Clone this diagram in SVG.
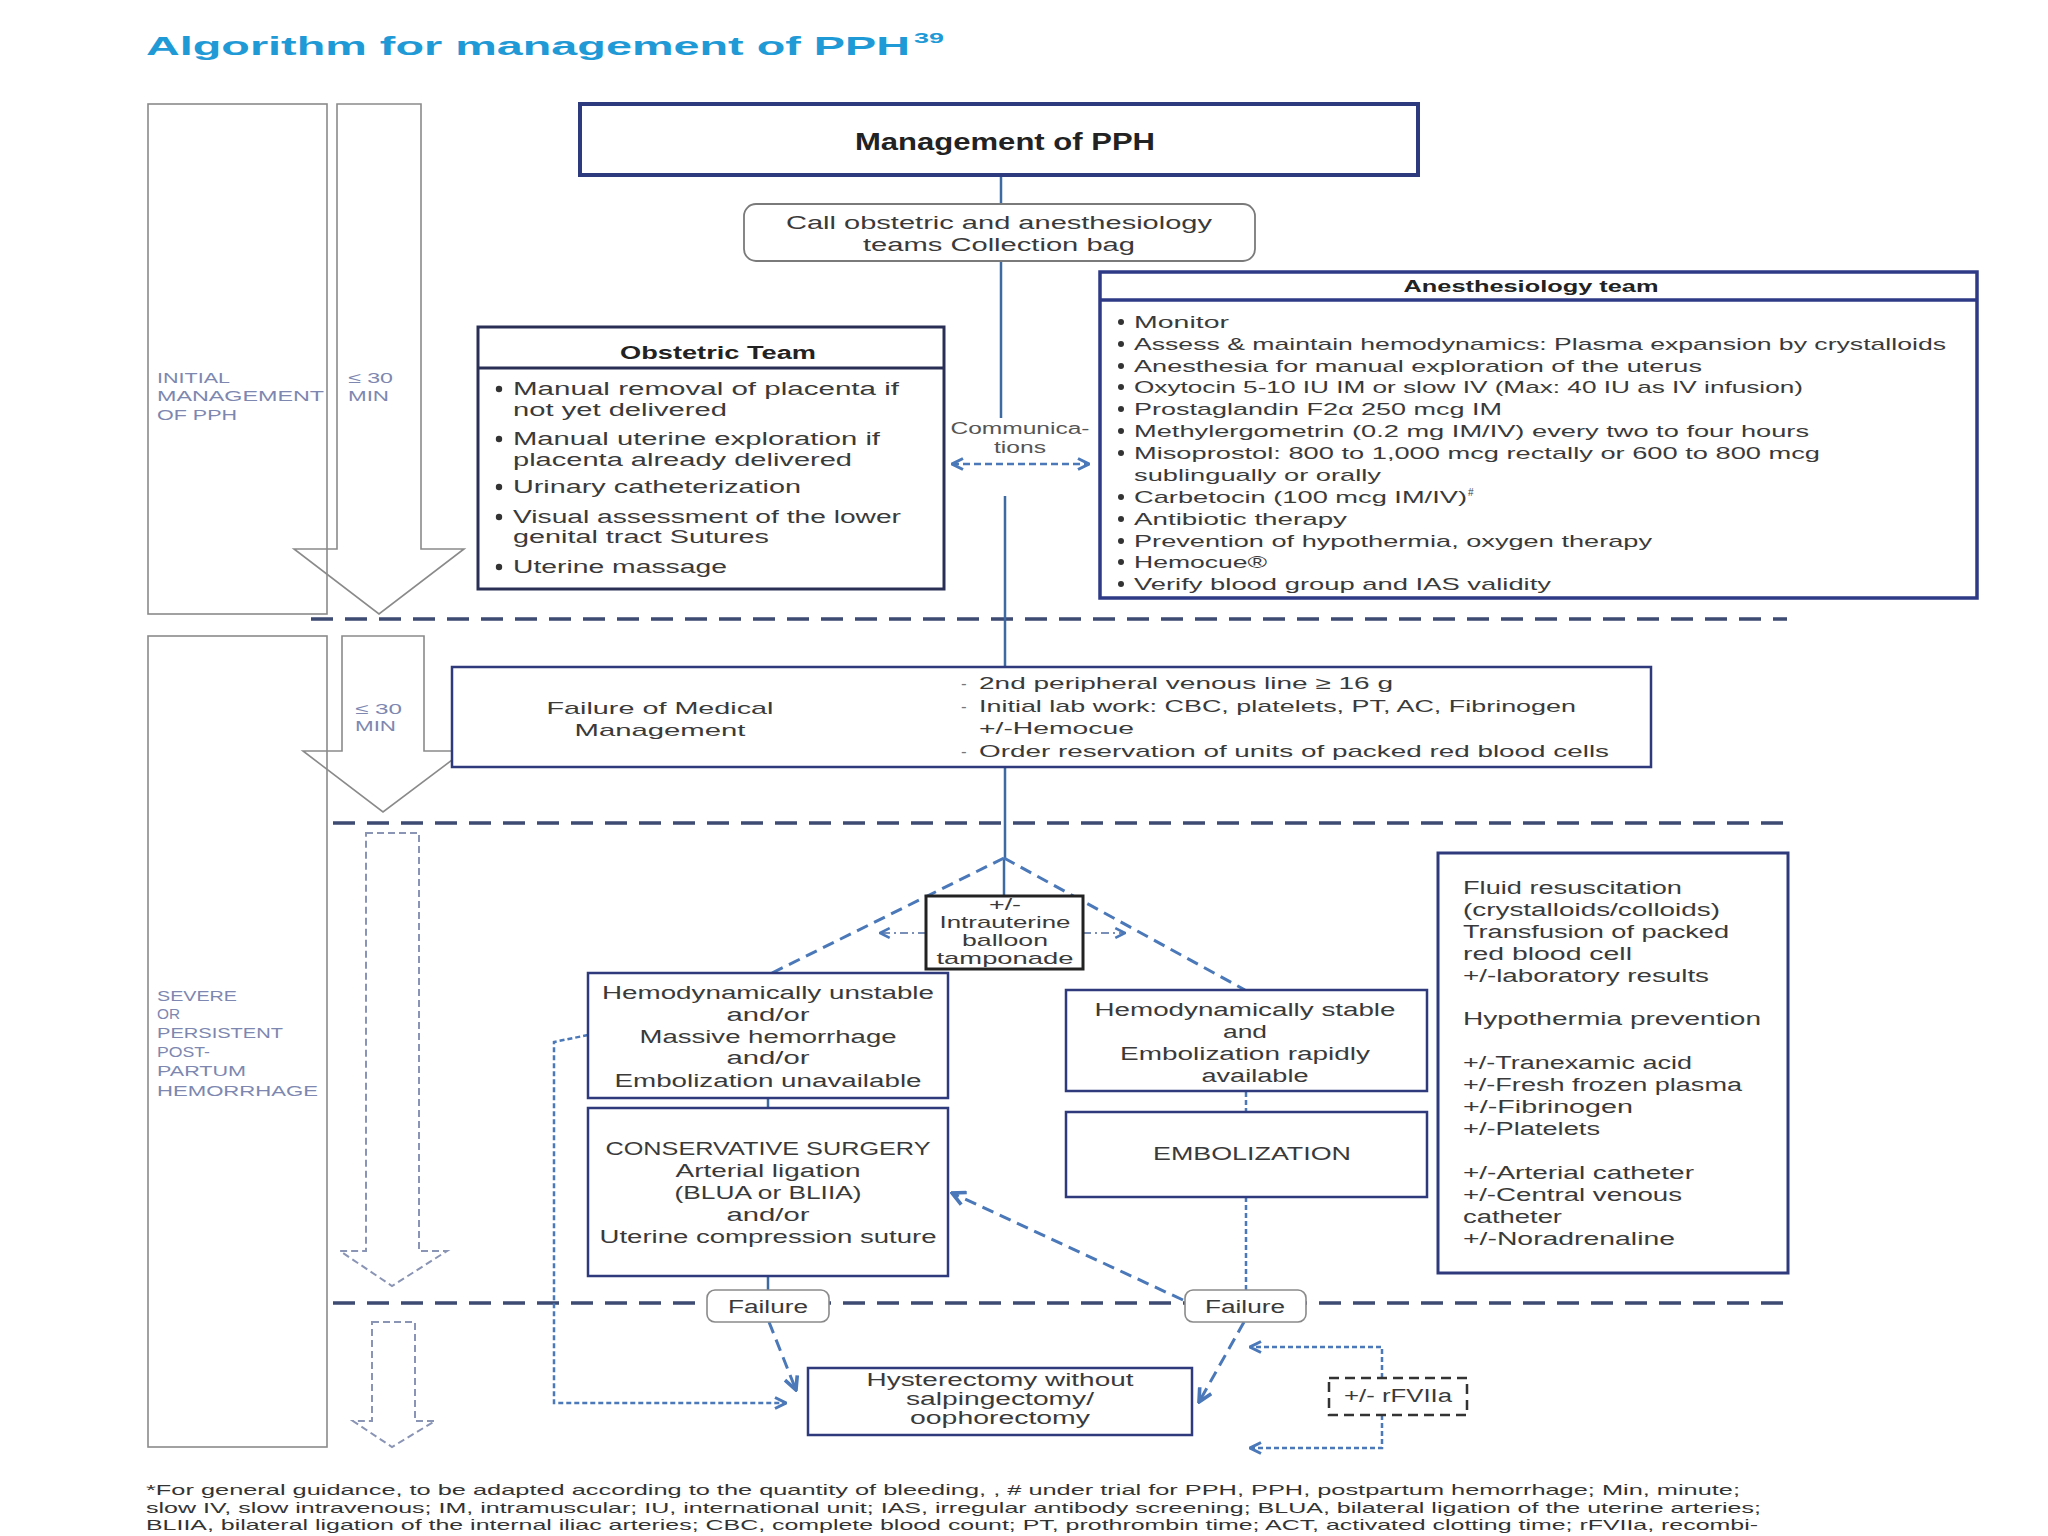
<svg xmlns="http://www.w3.org/2000/svg" width="2048" height="1536" viewBox="0 0 2048 1536">
<style>
text{font-family:"Liberation Sans",Arial,sans-serif;fill:#3a3a3a;font-size:17px}
.c{text-anchor:middle}
.b{font-weight:bold}
.side{fill:#7d87b0;font-size:15px}
.box{fill:#fff;stroke:#2e3a7c;stroke-width:2.5}
.gray{fill:none;stroke:#8a8a8a;stroke-width:1.6}
.gdash{fill:none;stroke:#8a94b4;stroke-width:2;stroke-dasharray:7 4}
.div{stroke:#3d4a72;stroke-width:3.5;stroke-dasharray:22 12;fill:none}
.sol{stroke:#3d6aa3;stroke-width:2.5;fill:none}
.dsh{stroke:#4a78b8;stroke-width:3;stroke-dasharray:12 7;fill:none}
.dot{stroke:#4a78b8;stroke-width:2.5;stroke-dasharray:5 3;fill:none}
.pill{fill:#fff;stroke:#8a8a8a;stroke-width:1.6}
.bul{fill:#333}
</style>
<defs>
<marker id="ah" viewBox="0 0 10 10" refX="9" refY="5" markerWidth="5.5" markerHeight="5.5" orient="auto-start-reverse">
<path d="M1,1 L9,5 L1,9" fill="none" stroke="#4a78b8" stroke-width="2.2"/>
</marker>
</defs>
<rect x="0" y="0" width="2048" height="1536" fill="#fff"/>

<text x="146" y="55" class="b" style="fill:#1f9ad6;font-size:26px" textLength="764" lengthAdjust="spacingAndGlyphs">Algorithm for management of PPH</text>
<text x="914" y="43" class="b" style="fill:#1f9ad6;font-size:14px" textLength="30" lengthAdjust="spacingAndGlyphs">39</text>

<g id="phase-initial">
<rect x="148" y="104" width="179" height="510" class="gray"/>
<text x="157" y="383" class="side" textLength="73" lengthAdjust="spacingAndGlyphs">INITIAL</text>
<text x="157" y="401" class="side" textLength="167" lengthAdjust="spacingAndGlyphs">MANAGEMENT</text>
<text x="157" y="420" class="side" textLength="80" lengthAdjust="spacingAndGlyphs">OF PPH</text>
</g>
<g id="timer-1">
<polygon points="337,104 421,104 421,549 464,549 379,614 294,549 337,549" class="gray"/>
<text x="348" y="383" class="side" textLength="45" lengthAdjust="spacingAndGlyphs">≤ 30</text>
<text x="348" y="401" class="side" textLength="41" lengthAdjust="spacingAndGlyphs">MIN</text>
</g>
<g id="phase-severe">
<rect x="148" y="636" width="179" height="811" class="gray"/>
<text x="157" y="1001" class="side" textLength="80" lengthAdjust="spacingAndGlyphs">SEVERE</text>
<text x="157" y="1019" class="side" textLength="23" lengthAdjust="spacingAndGlyphs">OR</text>
<text x="157" y="1038" class="side" textLength="126" lengthAdjust="spacingAndGlyphs">PERSISTENT</text>
<text x="157" y="1057" class="side" textLength="53" lengthAdjust="spacingAndGlyphs">POST-</text>
<text x="157" y="1076" class="side" textLength="89" lengthAdjust="spacingAndGlyphs">PARTUM</text>
<text x="157" y="1096" class="side" textLength="161" lengthAdjust="spacingAndGlyphs">HEMORRHAGE</text>
</g>
<g id="timer-2">
<polygon points="342,636 424,636 424,751 464,751 383,812 303,751 342,751" class="gray"/>
<text x="355" y="714" class="side" textLength="47" lengthAdjust="spacingAndGlyphs">≤ 30</text>
<text x="355" y="731" class="side" textLength="41" lengthAdjust="spacingAndGlyphs">MIN</text>
</g>
<g id="timer-3">
<polygon points="366,833 419,833 419,1251 447,1251 392,1286 340,1251 366,1251" class="gdash"/>
</g>
<g id="timer-4">
<polygon points="372,1322 415,1322 415,1421 435,1421 392,1447 353,1421 372,1421" class="gdash"/>
</g>

<g id="dividers">
<line x1="311" y1="619" x2="1787" y2="619" class="div"/>
<line x1="333" y1="823" x2="1787" y2="823" class="div"/>
<line x1="333" y1="1303" x2="1787" y2="1303" class="div"/>
</g>

<g id="connectors">
<path d="M1001,175 V204" class="sol"/>
<path d="M1001,261 V418" class="sol"/>
<path d="M1005,496 V858" class="sol"/>
<path d="M1004,858 V896" class="sol"/>
<path d="M1004,858 L772,973" class="dsh"/>
<path d="M1004,858 L1245,990" class="dsh"/>
<path d="M926,933 H880" stroke="#7a8fb8" stroke-width="2.2" stroke-dasharray="8 4 2 4" fill="none" marker-end="url(#ah)"/>
<path d="M1083,933 H1125" stroke="#7a8fb8" stroke-width="2.2" stroke-dasharray="8 4 2 4" fill="none" marker-end="url(#ah)"/>
<path d="M768,1098 V1108" class="sol"/>
<path d="M768,1276 V1290" class="sol"/>
<path d="M1246,1092 V1112" class="dot"/>
<path d="M1246,1197 V1290" class="dot"/>
<path d="M769,1322 L796,1390" class="dsh" marker-end="url(#ah)"/>
<path d="M1244,1322 L1199,1402" class="dsh" marker-end="url(#ah)"/>
<path d="M1183,1300 L952,1193" class="dsh" marker-end="url(#ah)"/>
<path d="M588,1035 L554,1042 V1403 H786" class="dot" marker-end="url(#ah)"/>
<path d="M1382,1378 V1347 H1250" class="dot" marker-end="url(#ah)"/>
<path d="M1382,1415 V1448 H1250" class="dot" marker-end="url(#ah)"/>
<path d="M952,464 H1089" stroke="#4a78b8" stroke-width="2.5" stroke-dasharray="7 4" fill="none" marker-start="url(#ah)" marker-end="url(#ah)"/>
<text x="1020" y="434" class="c" style="font-size:16px;fill:#555" textLength="139" lengthAdjust="spacingAndGlyphs">Communica-</text>
<text x="1020" y="453" class="c" style="font-size:16px;fill:#555" textLength="52" lengthAdjust="spacingAndGlyphs">tions</text>
</g>

<g id="management">
<rect x="580" y="104" width="838" height="71" fill="#fff" stroke="#2e3a7e" stroke-width="4"/>
<text x="1005" y="150" class="c b" style="font-size:24px;fill:#222" textLength="300" lengthAdjust="spacingAndGlyphs">Management of PPH</text>
</g>

<g id="call-teams">
<rect x="744" y="204" width="511" height="57" rx="12" fill="#fff" stroke="#7a7a7a" stroke-width="1.8"/>
<text x="999" y="229" class="c" style="font-size:18px" textLength="426" lengthAdjust="spacingAndGlyphs">Call obstetric and anesthesiology</text>
<text x="999" y="251" class="c" style="font-size:18px" textLength="272" lengthAdjust="spacingAndGlyphs">teams Collection bag</text>
</g>

<g id="obstetric-team">
<rect x="478" y="327" width="466" height="262" fill="#fff" stroke="#2a2f55" stroke-width="3"/>
<line x1="478" y1="368" x2="944" y2="368" stroke="#2a2f55" stroke-width="3"/>
<text x="718" y="359" class="c b" style="font-size:18px;fill:#222" textLength="196" lengthAdjust="spacingAndGlyphs">Obstetric Team</text>
<circle cx="499" cy="389" r="3.2" class="bul"/>
<circle cx="499" cy="439" r="3.2" class="bul"/>
<circle cx="499" cy="487" r="3.2" class="bul"/>
<circle cx="499" cy="517" r="3.2" class="bul"/>
<circle cx="499" cy="567" r="3.2" class="bul"/>
<text x="513" y="395" style="font-size:18px" textLength="386" lengthAdjust="spacingAndGlyphs">Manual removal of placenta  if</text>
<text x="513" y="416" style="font-size:18px" textLength="214" lengthAdjust="spacingAndGlyphs">not yet delivered</text>
<text x="513" y="445" style="font-size:18px" textLength="367" lengthAdjust="spacingAndGlyphs">Manual uterine exploration if</text>
<text x="513" y="466" style="font-size:18px" textLength="339" lengthAdjust="spacingAndGlyphs">placenta already delivered</text>
<text x="513" y="493" style="font-size:18px" textLength="288" lengthAdjust="spacingAndGlyphs">Urinary catheterization</text>
<text x="513" y="523" style="font-size:18px" textLength="388" lengthAdjust="spacingAndGlyphs">Visual assessment of the lower</text>
<text x="513" y="543" style="font-size:18px" textLength="256" lengthAdjust="spacingAndGlyphs">genital tract Sutures</text>
<text x="513" y="573" style="font-size:18px" textLength="214" lengthAdjust="spacingAndGlyphs">Uterine massage</text>
</g>

<g id="anesthesiology-team">
<rect x="1100" y="272" width="877" height="326" fill="#fff" stroke="#2e3a86" stroke-width="3.5"/>
<line x1="1100" y1="300" x2="1977" y2="300" stroke="#2e3a86" stroke-width="3.5"/>
<text x="1531" y="292" class="c b" style="font-size:17px;fill:#222" textLength="255" lengthAdjust="spacingAndGlyphs">Anesthesiology team</text>
<circle cx="1121" cy="322" r="3" class="bul"/>
<circle cx="1121" cy="344" r="3" class="bul"/>
<circle cx="1121" cy="366" r="3" class="bul"/>
<circle cx="1121" cy="387" r="3" class="bul"/>
<circle cx="1121" cy="409" r="3" class="bul"/>
<circle cx="1121" cy="431" r="3" class="bul"/>
<circle cx="1121" cy="453" r="3" class="bul"/>
<circle cx="1121" cy="497" r="3" class="bul"/>
<circle cx="1121" cy="519" r="3" class="bul"/>
<circle cx="1121" cy="541" r="3" class="bul"/>
<circle cx="1121" cy="562" r="3" class="bul"/>
<circle cx="1121" cy="584" r="3" class="bul"/>
<text x="1134" y="328" textLength="95" lengthAdjust="spacingAndGlyphs">Monitor</text>
<text x="1134" y="350" textLength="812" lengthAdjust="spacingAndGlyphs">Assess &amp; maintain hemodynamics: Plasma expansion by crystalloids</text>
<text x="1134" y="372" textLength="568" lengthAdjust="spacingAndGlyphs">Anesthesia for manual exploration of the uterus</text>
<text x="1134" y="393" textLength="669" lengthAdjust="spacingAndGlyphs">Oxytocin 5-10 IU IM or slow IV (Max: 40 IU as IV infusion)</text>
<text x="1134" y="415" textLength="368" lengthAdjust="spacingAndGlyphs">Prostaglandin F2α 250 mcg IM</text>
<text x="1134" y="437" textLength="675" lengthAdjust="spacingAndGlyphs">Methylergometrin (0.2 mg IM/IV) every two to four hours</text>
<text x="1134" y="459" textLength="686" lengthAdjust="spacingAndGlyphs">Misoprostol: 800 to 1,000 mcg rectally or 600 to 800 mcg</text>
<text x="1134" y="481" textLength="247" lengthAdjust="spacingAndGlyphs">sublingually or orally</text>
<text x="1134" y="503" textLength="333" lengthAdjust="spacingAndGlyphs">Carbetocin (100 mcg IM/IV)</text>
<text x="1468" y="496" style="font-size:10px">#</text>
<text x="1134" y="525" textLength="213" lengthAdjust="spacingAndGlyphs">Antibiotic therapy</text>
<text x="1134" y="547" textLength="518" lengthAdjust="spacingAndGlyphs">Prevention of hypothermia, oxygen therapy</text>
<text x="1134" y="568" textLength="133" lengthAdjust="spacingAndGlyphs">Hemocue®</text>
<text x="1134" y="590" textLength="417" lengthAdjust="spacingAndGlyphs">Verify blood group and IAS validity</text>
</g>

<g id="failure-medical">
<rect x="452" y="667" width="1199" height="100" class="box"/>
<text x="660" y="714" class="c" textLength="227" lengthAdjust="spacingAndGlyphs">Failure of Medical</text>
<text x="660" y="736" class="c" textLength="171" lengthAdjust="spacingAndGlyphs">Management</text>
<text x="961" y="689" style="fill:#777">-</text>
<text x="961" y="712" style="fill:#777">-</text>
<text x="961" y="757" style="fill:#777">-</text>
<text x="979" y="689" textLength="414" lengthAdjust="spacingAndGlyphs">2nd peripheral venous line ≥ 16 g</text>
<text x="979" y="712" textLength="597" lengthAdjust="spacingAndGlyphs">Initial lab work: CBC, platelets, PT, AC, Fibrinogen</text>
<text x="979" y="734" textLength="155" lengthAdjust="spacingAndGlyphs">+/-Hemocue</text>
<text x="979" y="757" textLength="630" lengthAdjust="spacingAndGlyphs">Order reservation of units of packed red blood cells</text>
</g>

<g id="balloon">
<rect x="926" y="896" width="157" height="73" fill="#fff" stroke="#222" stroke-width="3"/>
<text x="1005" y="910" class="c" style="font-size:16px" textLength="32" lengthAdjust="spacingAndGlyphs">+/-</text>
<text x="1005" y="928" class="c" style="font-size:17px" textLength="131" lengthAdjust="spacingAndGlyphs">Intrauterine</text>
<text x="1005" y="946" class="c" style="font-size:17px" textLength="86" lengthAdjust="spacingAndGlyphs">balloon</text>
<text x="1005" y="964" class="c" style="font-size:17px" textLength="137" lengthAdjust="spacingAndGlyphs">tamponade</text>
</g>

<g id="unstable">
<rect x="588" y="973" width="360" height="125" class="box"/>
<text x="768" y="999" class="c" style="font-size:18px" textLength="332" lengthAdjust="spacingAndGlyphs">Hemodynamically unstable</text>
<text x="768" y="1021" class="c" style="font-size:18px" textLength="83" lengthAdjust="spacingAndGlyphs">and/or</text>
<text x="768" y="1043" class="c" style="font-size:18px" textLength="257" lengthAdjust="spacingAndGlyphs">Massive hemorrhage</text>
<text x="768" y="1064" class="c" style="font-size:18px" textLength="83" lengthAdjust="spacingAndGlyphs">and/or</text>
<text x="768" y="1087" class="c" style="font-size:18px" textLength="307" lengthAdjust="spacingAndGlyphs">Embolization unavailable</text>
</g>

<g id="conservative-surgery">
<rect x="588" y="1108" width="360" height="168" class="box"/>
<text x="768" y="1155" class="c" style="font-size:18px" textLength="325" lengthAdjust="spacingAndGlyphs">CONSERVATIVE SURGERY</text>
<text x="768" y="1177" class="c" style="font-size:18px" textLength="185" lengthAdjust="spacingAndGlyphs">Arterial ligation</text>
<text x="768" y="1199" class="c" style="font-size:18px" textLength="187" lengthAdjust="spacingAndGlyphs">(BLUA or BLIIA)</text>
<text x="768" y="1221" class="c" style="font-size:18px" textLength="83" lengthAdjust="spacingAndGlyphs">and/or</text>
<text x="768" y="1243" class="c" style="font-size:18px" textLength="337" lengthAdjust="spacingAndGlyphs">Uterine compression suture</text>
</g>

<g id="stable">
<rect x="1066" y="990" width="361" height="101" class="box"/>
<text x="1245" y="1016" class="c" style="font-size:18px" textLength="301" lengthAdjust="spacingAndGlyphs">Hemodynamically stable</text>
<text x="1245" y="1038" class="c" style="font-size:18px" textLength="44" lengthAdjust="spacingAndGlyphs">and</text>
<text x="1245" y="1060" class="c" style="font-size:18px" textLength="250" lengthAdjust="spacingAndGlyphs">Embolization rapidly</text>
<text x="1255" y="1082" class="c" style="font-size:18px" textLength="107" lengthAdjust="spacingAndGlyphs">available</text>
</g>

<g id="embolization">
<rect x="1066" y="1112" width="361" height="85" class="box"/>
<text x="1252" y="1160" class="c" style="font-size:18px" textLength="198" lengthAdjust="spacingAndGlyphs">EMBOLIZATION</text>
</g>

<g id="failure-left">
<rect x="707" y="1290" width="122" height="32" rx="8" class="pill"/>
<text x="768" y="1313" class="c" style="font-size:18px" textLength="80" lengthAdjust="spacingAndGlyphs">Failure</text>
</g>
<g id="failure-right">
<rect x="1185" y="1290" width="121" height="32" rx="8" class="pill"/>
<text x="1245" y="1313" class="c" style="font-size:18px" textLength="80" lengthAdjust="spacingAndGlyphs">Failure</text>
</g>

<g id="hysterectomy">
<rect x="808" y="1368" width="384" height="67" class="box"/>
<text x="1000" y="1386" class="c" style="font-size:18px" textLength="267" lengthAdjust="spacingAndGlyphs">Hysterectomy without</text>
<text x="1000" y="1405" class="c" style="font-size:18px" textLength="188" lengthAdjust="spacingAndGlyphs">salpingectomy/</text>
<text x="1000" y="1424" class="c" style="font-size:18px" textLength="180" lengthAdjust="spacingAndGlyphs">oophorectomy</text>
</g>

<g id="rfviia">
<rect x="1329" y="1378" width="138" height="37" fill="#fff" stroke="#333" stroke-width="2.5" stroke-dasharray="10 6"/>
<text x="1398" y="1402" class="c" style="font-size:18px" textLength="108" lengthAdjust="spacingAndGlyphs">+/- rFVIIa</text>
</g>

<g id="supportive-care">
<rect x="1438" y="853" width="350" height="420" class="box" style="stroke-width:3"/>
<text x="1463" y="894" style="font-size:18px" textLength="219" lengthAdjust="spacingAndGlyphs">Fluid resuscitation</text>
<text x="1463" y="916" style="font-size:18px" textLength="257" lengthAdjust="spacingAndGlyphs">(crystalloids/colloids)</text>
<text x="1463" y="938" style="font-size:18px" textLength="266" lengthAdjust="spacingAndGlyphs">Transfusion of packed</text>
<text x="1463" y="960" style="font-size:18px" textLength="169" lengthAdjust="spacingAndGlyphs">red blood cell</text>
<text x="1463" y="982" style="font-size:18px" textLength="246" lengthAdjust="spacingAndGlyphs">+/-laboratory results</text>
<text x="1463" y="1025" style="font-size:18px" textLength="298" lengthAdjust="spacingAndGlyphs">Hypothermia prevention</text>
<text x="1463" y="1069" style="font-size:18px" textLength="229" lengthAdjust="spacingAndGlyphs">+/-Tranexamic acid</text>
<text x="1463" y="1091" style="font-size:18px" textLength="279" lengthAdjust="spacingAndGlyphs">+/-Fresh frozen plasma</text>
<text x="1463" y="1113" style="font-size:18px" textLength="170" lengthAdjust="spacingAndGlyphs">+/-Fibrinogen</text>
<text x="1463" y="1135" style="font-size:18px" textLength="137" lengthAdjust="spacingAndGlyphs">+/-Platelets</text>
<text x="1463" y="1179" style="font-size:18px" textLength="231" lengthAdjust="spacingAndGlyphs">+/-Arterial catheter</text>
<text x="1463" y="1201" style="font-size:18px" textLength="219" lengthAdjust="spacingAndGlyphs">+/-Central venous</text>
<text x="1463" y="1223" style="font-size:18px" textLength="99" lengthAdjust="spacingAndGlyphs">catheter</text>
<text x="1463" y="1245" style="font-size:18px" textLength="212" lengthAdjust="spacingAndGlyphs">+/-Noradrenaline</text>
</g>

<g id="footnote">
<text x="146" y="1495" style="font-size:15px;fill:#333" textLength="1594" lengthAdjust="spacingAndGlyphs">*For general guidance, to be adapted according to the quantity of bleeding, , # under trial for PPH, PPH, postpartum hemorrhage; Min, minute;</text>
<text x="146" y="1513" style="font-size:15px;fill:#333" textLength="1615" lengthAdjust="spacingAndGlyphs">slow IV, slow intravenous; IM, intramuscular; IU, international unit; IAS, irregular antibody screening; BLUA, bilateral ligation of the uterine arteries;</text>
<text x="146" y="1530" style="font-size:15px;fill:#333" textLength="1612" lengthAdjust="spacingAndGlyphs">BLIIA, bilateral ligation of the internal iliac arteries; CBC, complete blood count; PT, prothrombin time; ACT, activated clotting time; rFVIIa, recombi-</text>
</g>
</svg>
